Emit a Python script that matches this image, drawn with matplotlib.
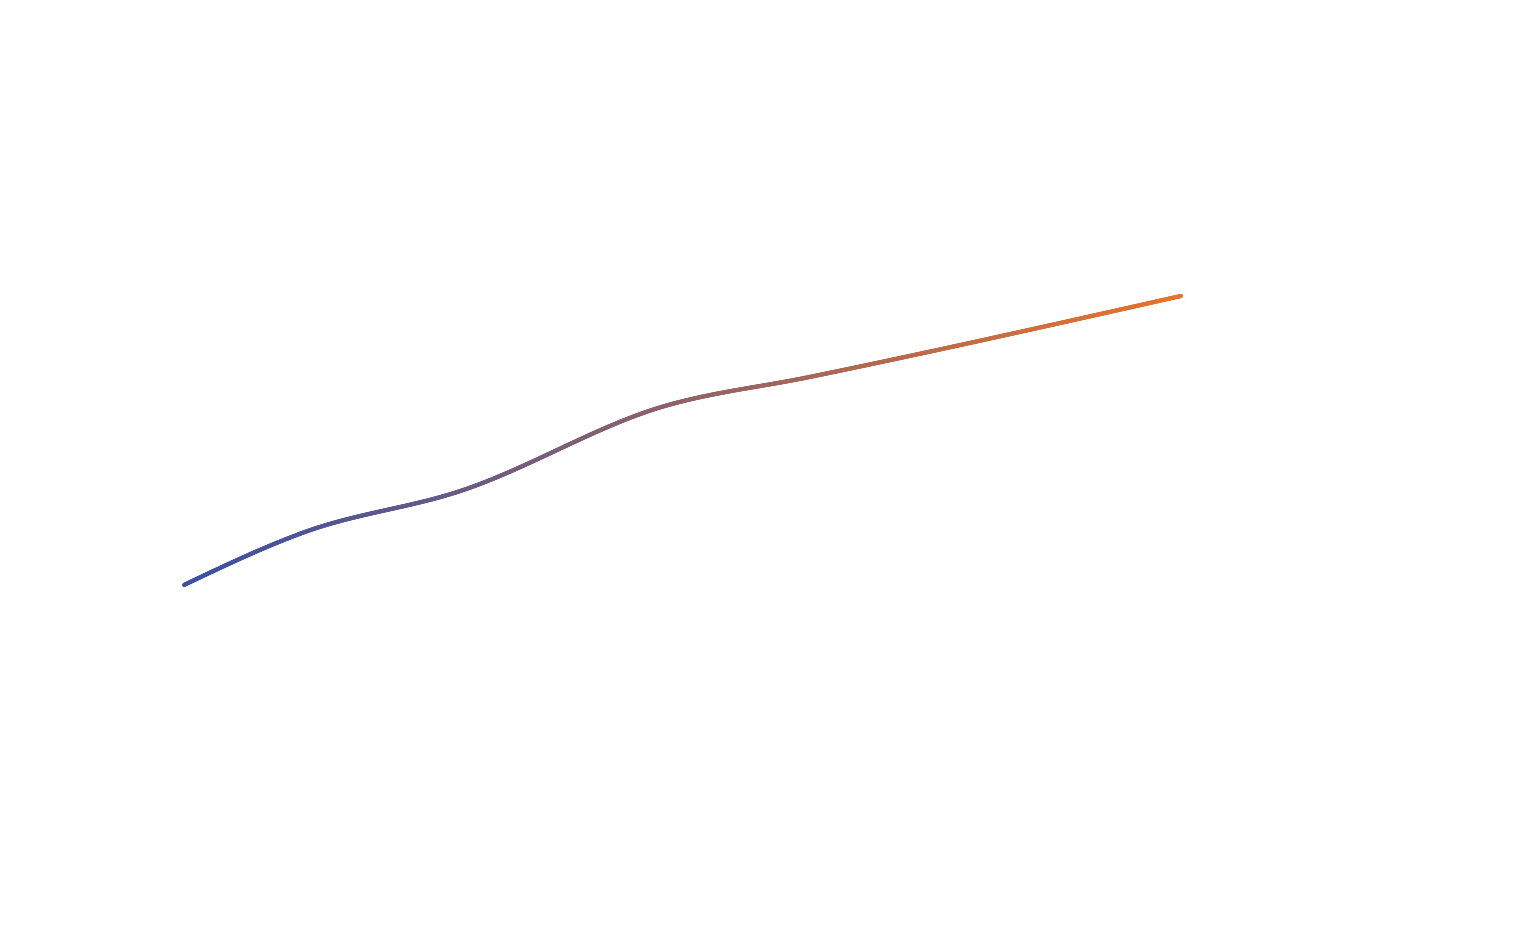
import numpy as np
import matplotlib
matplotlib.use("Agg")
import matplotlib.pyplot as plt
from matplotlib.collections import LineCollection
from matplotlib.colors import LinearSegmentedColormap

# Data (abstract units)
x_vals = [0.0, 12.1, 27.7, 48.2, 62.8, 100.0]
y_vals = [0.0, 18.3, 32.5, 61.9, 72.0, 100.0]
start_color = "#3a51a6"
end_color = "#e8732a"


def monotone_cubic(x, y, n=1200):
    x = np.asarray(x, float)
    y = np.asarray(y, float)
    h = np.diff(x)
    d = np.diff(y) / h
    m = np.zeros_like(y)
    for i in range(1, len(x) - 1):
        if d[i - 1] * d[i] <= 0:
            m[i] = 0
        else:
            p = (d[i - 1] * h[i] + d[i] * h[i - 1]) / (h[i - 1] + h[i])
            m[i] = (np.sign(d[i - 1]) + np.sign(d[i])) * min(abs(d[i - 1]), abs(d[i]), 0.5 * abs(p))
    m[0] = (3 * d[0] - m[1]) / 2
    m[-1] = (3 * d[-1] - m[-2]) / 2
    xs = np.linspace(x[0], x[-1], n)
    idx = np.clip(np.searchsorted(x, xs, side="right") - 1, 0, len(x) - 2)
    t = (xs - x[idx]) / h[idx]
    h00 = 2 * t**3 - 3 * t**2 + 1
    h10 = t**3 - 2 * t**2 + t
    h01 = -2 * t**3 + 3 * t**2
    h11 = t**3 - t**2
    ys = h00 * y[idx] + h10 * h[idx] * m[idx] + h01 * y[idx + 1] + h11 * h[idx] * m[idx + 1]
    return xs, ys


fig = plt.figure(figsize=(15.36, 9.39), dpi=100)
fig.patch.set_facecolor("white")
ax = fig.add_axes([0, 0, 1, 1])
ax.set_axis_off()

xs, ys = monotone_cubic(x_vals, y_vals)
pts = np.column_stack([xs, ys]).reshape(-1, 1, 2)
segs = np.concatenate([pts[:-1], pts[1:]], axis=1)
cmap = LinearSegmentedColormap.from_list("grad", [start_color, end_color])
lc = LineCollection(segs, cmap=cmap, linewidth=3.0, capstyle="round", joinstyle="round")
lc.set_array((xs[:-1] + xs[1:]) / 2)
lc.set_clim(x_vals[0], x_vals[-1])
ax.add_collection(lc)

ax.set_xlim(-18.46, 135.6)
ax.set_ylim(-122.5, 202.4)

fig.savefig("out.png", dpi=100, facecolor="white")
